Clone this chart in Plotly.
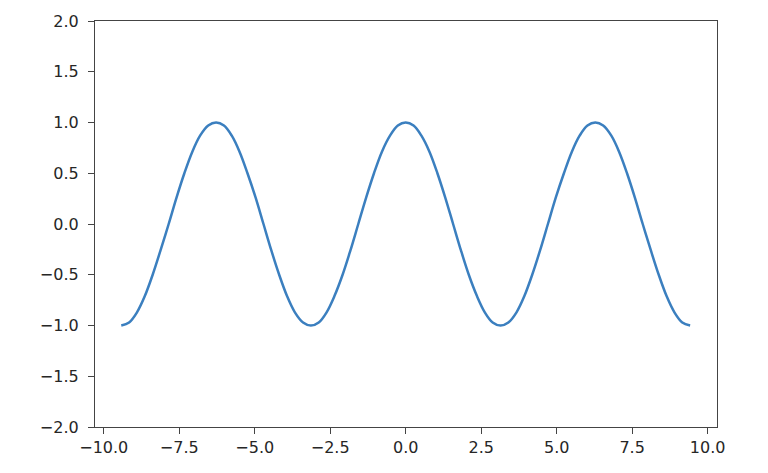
import plotly.graph_objects as go

# valores
x_vals = [-9.42, -9.16, -8.90, -8.64, -8.38, -8.12, -7.85, -7.59, -7.33, -7.07, -6.81, -6.54,
          -6.28, -6.02, -5.76, -5.50, -5.24, -4.97, -4.71, -4.45, -4.19, -3.93, -3.67, -3.40,
          -3.14, -2.88, -2.62, -2.36, -2.09, -1.83, -1.57, -1.31, -1.05, -0.79, -0.52, -0.26,
          0.0,
          0.26, 0.52, 0.79, 1.05, 1.31, 1.57, 1.83, 2.09, 2.36, 2.62, 2.88, 3.14,
          3.40, 3.67, 3.93, 4.19, 4.45, 4.71, 4.97, 5.24, 5.50, 5.76, 6.02, 6.28,
          6.54, 6.81, 7.07, 7.33, 7.59, 7.85, 8.12, 8.38, 8.64, 8.90, 9.16, 9.42]
y_vals = [-1.00, -0.97, -0.87, -0.71, -0.50, -0.26, 0.00, 0.26, 0.50, 0.71, 0.87, 0.97,
          1.00, 0.97, 0.87, 0.71, 0.50, 0.26, 0.00, -0.26, -0.50, -0.71, -0.87, -0.97,
          -1.00, -0.97, -0.87, -0.71, -0.50, -0.26, 0.00, 0.26, 0.50, 0.71, 0.87, 0.97,
          1.00,
          0.97, 0.87, 0.71, 0.50, 0.26, 0.00, -0.26, -0.50, -0.71, -0.87, -0.97, -1.00,
          -0.97, -0.87, -0.71, -0.50, -0.26, 0.00, 0.26, 0.50, 0.71, 0.87, 0.97, 1.00,
          0.97, 0.87, 0.71, 0.50, 0.26, 0.00, -0.26, -0.50, -0.71, -0.87, -0.97, -1.00]

x_ticks = [-10.0, -7.5, -5.0, -2.5, 0.0, 2.5, 5.0, 7.5, 10.0]
y_ticks = [-2.0, -1.5, -1.0, -0.5, 0.0, 0.5, 1.0, 1.5, 2.0]

fig = go.Figure()
fig.add_trace(go.Scatter(x=x_vals, y=y_vals, mode="lines",
                         line=dict(color="#3b7fbf", width=2.5, shape="spline", smoothing=1.0)))

ejes = dict(showline=True, mirror=True, linecolor="#444", linewidth=1.2,
            ticks="outside", ticklen=6, tickcolor="#444", tickwidth=1.2,
            showgrid=False, zeroline=False, tickformat=".1f", automargin=False,
            tickfont=dict(family="DejaVu Sans", size=16, color="#262626"))

fig.update_xaxes(range=[-10.29, 10.31], tickvals=x_ticks, **ejes)
fig.update_yaxes(range=[-2.0, 2.0], tickvals=y_ticks, ticklabelstandoff=6, **ejes)
# la pagina tiene 8px de margen en el body
fig.update_layout(width=768, height=473, showlegend=False,
                  plot_bgcolor="white", paper_bgcolor="white",
                  margin=dict(l=87, r=59, t=13, b=54))
fig.write_html("out.html")
